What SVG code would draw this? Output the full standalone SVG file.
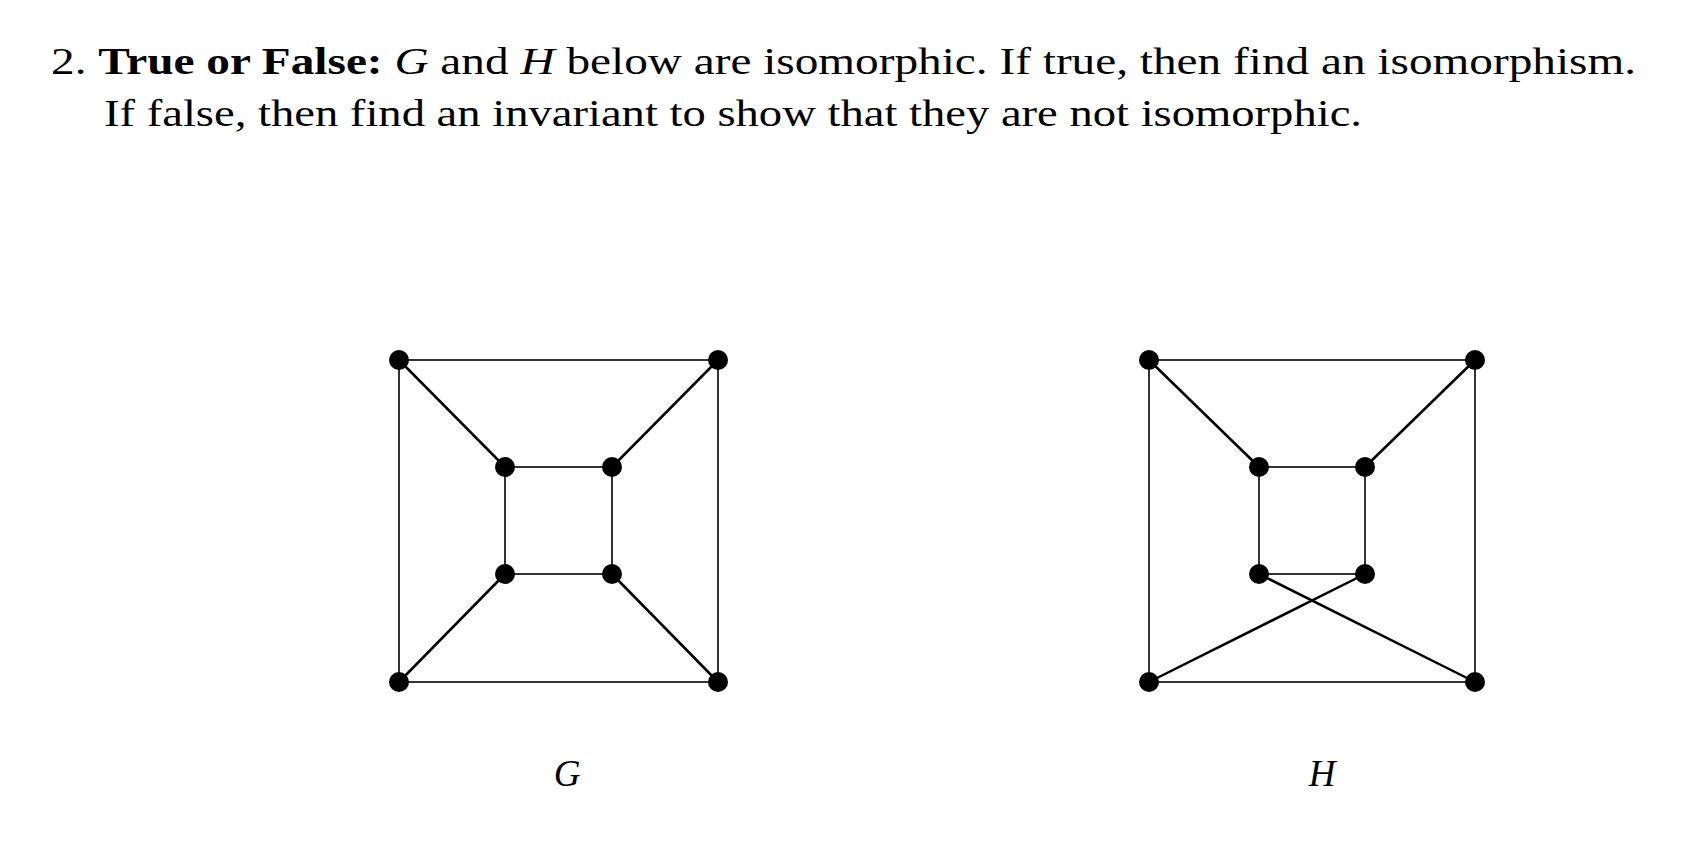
<svg xmlns="http://www.w3.org/2000/svg" width="1707" height="867" viewBox="0 0 1707 867">
<style>
text{font-family:"Liberation Serif","DejaVu Serif",serif;fill:#000}
.t{font-size:37px}
.e{stroke:#333;stroke-width:2;fill:none}
.d{stroke:#000;stroke-width:2.5}
.n{fill:#000}
</style>
<rect width="1707" height="867" fill="#fff"/>
<text class="t" x="51" y="74" textLength="1585" lengthAdjust="spacingAndGlyphs">2. <tspan font-weight="bold">True or False:</tspan> <tspan font-style="italic">G</tspan> and <tspan font-style="italic">H</tspan> below are isomorphic. If true, then find an isomorphism.</text>
<text class="t" x="104" y="126" textLength="1258" lengthAdjust="spacingAndGlyphs">If false, then find an invariant to show that they are not isomorphic.</text>
<g id="connectors">
<g class="e">
<line x1="399" y1="360" x2="718" y2="360"/><line x1="399" y1="682" x2="718" y2="682"/>
<line x1="399" y1="360" x2="399" y2="682"/><line x1="718" y1="360" x2="718" y2="682"/>
<line x1="505" y1="467" x2="612" y2="467"/><line x1="505" y1="574" x2="612" y2="574"/>
<line x1="505" y1="467" x2="505" y2="574"/><line x1="612" y1="467" x2="612" y2="574"/>
<line x1="1149" y1="360" x2="1475" y2="360"/><line x1="1149" y1="682" x2="1475" y2="682"/>
<line x1="1149" y1="360" x2="1149" y2="682"/><line x1="1475" y1="360" x2="1475" y2="682"/>
<line x1="1259" y1="467" x2="1365" y2="467"/><line x1="1259" y1="574" x2="1365" y2="574"/>
<line x1="1259" y1="467" x2="1259" y2="574"/><line x1="1365" y1="467" x2="1365" y2="574"/>
</g>
<g class="d">
<line x1="399" y1="360" x2="505" y2="467"/><line x1="718" y1="360" x2="612" y2="467"/>
<line x1="399" y1="682" x2="505" y2="574"/><line x1="718" y1="682" x2="612" y2="574"/>
<line x1="1149" y1="360" x2="1259" y2="467"/><line x1="1475" y1="360" x2="1365" y2="467"/>
<line x1="1259" y1="574" x2="1475" y2="682"/><line x1="1365" y1="574" x2="1149" y2="682"/>
</g>
</g>
<g id="G-nodes" class="n">
<circle id="g1" cx="399" cy="360" r="10"/><circle id="g2" cx="718" cy="360" r="10"/>
<circle id="g3" cx="505" cy="467" r="10"/><circle id="g4" cx="612" cy="467" r="10"/>
<circle id="g5" cx="505" cy="574" r="10"/><circle id="g6" cx="612" cy="574" r="10"/>
<circle id="g7" cx="399" cy="682" r="10"/><circle id="g8" cx="718" cy="682" r="10"/>
</g>
<g id="H-nodes" class="n">
<circle id="h1" cx="1149" cy="360" r="10"/><circle id="h2" cx="1475" cy="360" r="10"/>
<circle id="h3" cx="1259" cy="467" r="10"/><circle id="h4" cx="1365" cy="467" r="10"/>
<circle id="h5" cx="1259" cy="574" r="10"/><circle id="h6" cx="1365" cy="574" r="10"/>
<circle id="h7" cx="1149" cy="682" r="10"/><circle id="h8" cx="1475" cy="682" r="10"/>
</g>
<text class="t" x="567" y="786" text-anchor="middle" font-style="italic">G</text>
<text class="t" x="1322" y="786" text-anchor="middle" font-style="italic">H</text>
</svg>
